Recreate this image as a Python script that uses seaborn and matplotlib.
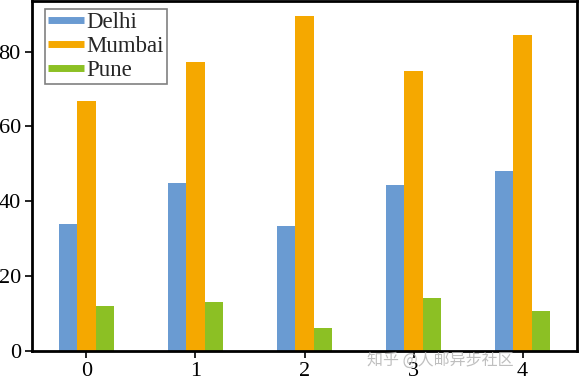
import matplotlib
matplotlib.use("Agg")
import matplotlib.pyplot as plt
import seaborn as sns
import pandas as pd
from matplotlib.lines import Line2D

groups = [0, 1, 2, 3, 4]
delhi = [34.0, 44.9, 33.5, 44.4, 48.1]
mumbai = [66.7, 77.3, 89.6, 74.7, 84.5]
pune = [12.0, 13.0, 6.1, 14.1, 10.6]
series_names = ["Delhi", "Mumbai", "Pune"]
colors = ["#6a9bd2", "#f5a800", "#8cc024"]
yticks = [0, 20, 40, 60, 80]

df = pd.DataFrame({
    "group": groups * 3,
    "value": delhi + mumbai + pune,
    "city": [n for n in series_names for _ in groups],
})

sns.set_style("white")
plt.rcParams["font.family"] = ["Liberation Serif", "DejaVu Serif"]

fig = plt.figure(figsize=(5.8, 3.86), dpi=100)
ax = fig.add_axes([0.055, 0.091, 0.94, 0.906])
sns.barplot(data=df, x="group", y="value", hue="city", hue_order=series_names,
            palette=colors, width=0.5, gap=0, ax=ax, legend=False,
            saturation=1, edgecolor="none", errorbar=None)

ax.set_xlim(-0.5, 4.5)
ax.set_ylim(0, 93.5)
ax.set_yticks(yticks)
ax.set_xlabel("")
ax.set_ylabel("")
for s in ax.spines.values():
    s.set_visible(True)
    s.set_color("black")
    s.set_linewidth(2)
ax.tick_params(axis="both", direction="out", length=5, width=1.2,
               colors="black", labelsize=16, bottom=True, left=True, pad=3)

handles = [Line2D([0], [0], color=c, lw=5, solid_capstyle="butt") for c in colors]
leg = ax.legend(handles, series_names, loc="upper left",
                bbox_to_anchor=(0.015, 0.992), fontsize=16.5, frameon=True,
                fancybox=False, framealpha=1, edgecolor="#808080",
                handlelength=1.55, handletextpad=0.1, borderpad=0.15,
                labelspacing=0.12, borderaxespad=0.2)
leg.get_frame().set_linewidth(1.2)

fig.text(0.632, 0.066, "知乎 @人邮异步社区", fontsize=11.5, color="#b0b0b0",
         alpha=0.8, family=["Noto Sans CJK SC", "DejaVu Sans"], va="center")

fig.savefig("out.png", dpi=100)
